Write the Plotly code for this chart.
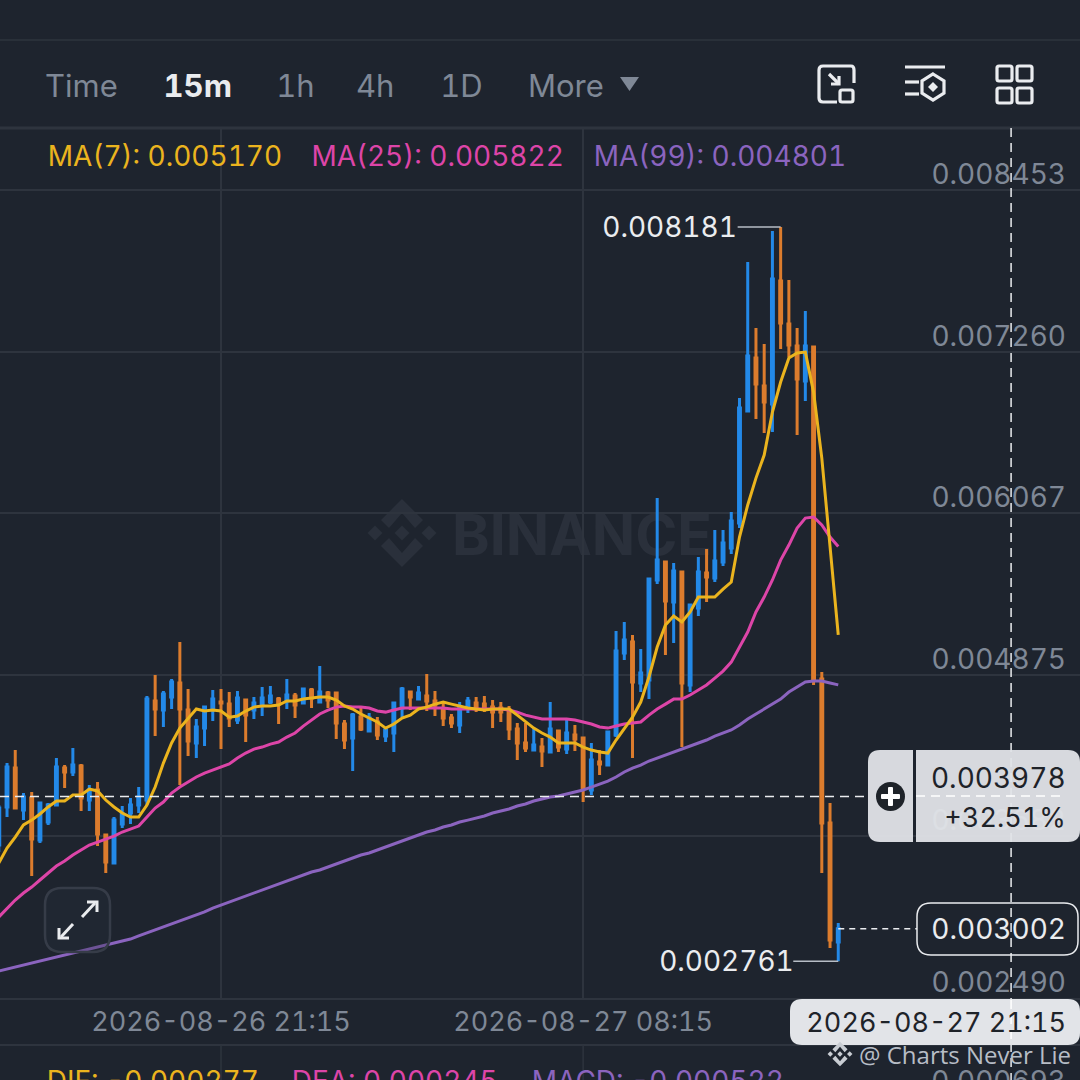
import numpy as np
import pandas as pd
import plotly.graph_objects as go

opens = [3619, 3900, 4187, 3877, 3966, 3656, 3789, 3914, 4187, 4158,
         4202, 3951, 4025, 3693, 3486, 3774, 3855, 3914, 3951, 4682,
         4615, 4711, 4815, 4615, 4372, 4482, 4615, 4674, 4659, 4541,
         4689, 4615, 4652, 4674, 4696, 4682, 4719, 4667, 4763, 4674,
         4741, 4741, 4512, 4409, 4563, 4460, 4527, 4423, 4446, 4630,
         4748, 4696, 4719, 4682, 4623, 4556, 4505, 4630, 4667, 4659,
         4637, 4630, 4615, 4475, 4372, 4320, 4342, 4305, 4460, 4327,
         4431, 4409, 4025, 4231, 4209, 4431, 5036, 5117, 4815, 4837,
         5575, 5708, 5412, 5634, 4800, 5368, 5626, 5589, 5708, 5811,
         5995, 6822, 7213, 7006, 6874, 7781, 7464, 7302, 7043, 7294,
         4844, 3781, 2903]
closes = [3892, 4194, 3892, 3973, 3663, 3929, 3914, 4194, 4158, 4209,
          3966, 4025, 3700, 3493, 3803, 3848, 3914, 3973, 4696, 4623,
          4733, 4822, 4623, 4387, 4490, 4637, 4696, 4667, 4556, 4704,
          4578, 4667, 4704, 4719, 4659, 4726, 4652, 4770, 4704, 4748,
          4689, 4519, 4394, 4578, 4475, 4556, 4431, 4468, 4667, 4770,
          4711, 4741, 4682, 4652, 4556, 4519, 4637, 4682, 4637, 4630,
          4600, 4600, 4475, 4372, 4335, 4357, 4313, 4475, 4342, 4446,
          4401, 4040, 4246, 4217, 4453, 5051, 5132, 4822, 4889, 5582,
          5722, 5420, 5641, 4815, 5390, 5634, 5597, 5715, 5848, 6010,
          6844, 7228, 7021, 6888, 7796, 7471, 7309, 7058, 7302, 4844,
          3781, 2918, 3002]
highs = [3914, 4224, 4320, 4003, 4010, 3936, 3929, 4261, 4209, 4335,
         4217, 4062, 4084, 3700, 3826, 3907, 3966, 4047, 4719, 4874,
         4756, 4844, 5117, 4770, 4549, 4645, 4763, 4770, 4748, 4756,
         4696, 4711, 4785, 4793, 4711, 4844, 4741, 4778, 4778, 4940,
         4756, 4741, 4541, 4593, 4637, 4593, 4563, 4482, 4674, 4785,
         4756, 4793, 4881, 4756, 4667, 4586, 4674, 4711, 4711, 4719,
         4689, 4674, 4645, 4519, 4519, 4482, 4409, 4674, 4468, 4541,
         4505, 4409, 4372, 4320, 4453, 5198, 5265, 5169, 5066, 5582,
         6180, 5708, 5700, 5641, 5398, 5745, 5804, 5944, 5944, 6077,
         6918, 7922, 7435, 7316, 8150, 8181, 7789, 7435, 7560, 7294,
         4896, 3929, 3043]
lows = [3567, 3826, 3892, 3803, 3390, 3634, 3767, 3907, 4040, 4128,
        3870, 3870, 3612, 3412, 3486, 3744, 3774, 3855, 3914, 4423,
        4490, 4623, 4062, 4276, 4261, 4350, 4534, 4327, 4490, 4512,
        4379, 4549, 4571, 4659, 4512, 4623, 4556, 4667, 4630, 4667,
        4630, 4401, 4327, 4165, 4460, 4460, 4394, 4379, 4305, 4563,
        4615, 4696, 4608, 4571, 4497, 4482, 4446, 4593, 4600, 4600,
        4482, 4527, 4394, 4246, 4305, 4320, 4194, 4298, 4305, 4290,
        4313, 3936, 3988, 4135, 4202, 4416, 4984, 4261, 4748, 4696,
        5545, 5021, 5110, 4342, 4748, 5309, 5412, 5560, 5678, 5767,
        5958, 6822, 6763, 6660, 6667, 7280, 7221, 6645, 6896, 4800,
        3412, 2859, 2761]
ma7 = [3486, 3597, 3678, 3767, 3803, 3848, 3900, 3944, 3944, 3988,
       3988, 4032, 4018, 3951, 3900, 3855, 3826, 3826, 3914, 4047,
       4224, 4372, 4482, 4556, 4623, 4608, 4615, 4608, 4563, 4571,
       4608, 4637, 4645, 4645, 4652, 4682, 4682, 4696, 4704, 4711,
       4711, 4689, 4645, 4623, 4586, 4556, 4527, 4482, 4512, 4556,
       4578, 4623, 4637, 4659, 4674, 4659, 4645, 4630, 4623, 4615,
       4623, 4623, 4623, 4578, 4527, 4482, 4446, 4416, 4372, 4372,
       4372, 4342, 4320, 4305, 4298, 4394, 4482, 4563, 4674, 4859,
       5080, 5243, 5309, 5265, 5339, 5449, 5449, 5449, 5508, 5560,
       5892, 6129, 6327, 6497, 6815, 7036, 7213, 7250, 7257, 6962,
       6475, 5833, 5170]
ma25 = [3088, 3154, 3213, 3265, 3309, 3361, 3412, 3464, 3501, 3545,
        3582, 3619, 3641, 3663, 3685, 3715, 3737, 3759, 3826, 3892,
        3936, 4003, 4047, 4084, 4121, 4150, 4172, 4194, 4217, 4261,
        4298, 4327, 4342, 4364, 4379, 4416, 4446, 4497, 4541, 4586,
        4615, 4637, 4645, 4637, 4637, 4630, 4608, 4600, 4615, 4630,
        4630, 4630, 4630, 4630, 4630, 4623, 4623, 4623, 4623, 4623,
        4623, 4623, 4615, 4600, 4578, 4563, 4549, 4549, 4549, 4549,
        4541, 4527, 4512, 4490, 4482, 4497, 4512, 4519, 4527, 4578,
        4623, 4659, 4696, 4696, 4726, 4763, 4800, 4851, 4903, 4969,
        5080, 5191, 5339, 5449, 5575, 5722, 5833, 5958, 6032, 6040,
        5981, 5892, 5822]
ma99 = [2689, 2704, 2719, 2733, 2748, 2763, 2777, 2792, 2807, 2822,
        2836, 2851, 2866, 2881, 2896, 2910, 2925, 2948, 2970, 2992,
        3014, 3036, 3058, 3080, 3103, 3125, 3154, 3176, 3198, 3220,
        3243, 3265, 3287, 3309, 3331, 3353, 3375, 3398, 3420, 3435,
        3457, 3479, 3501, 3523, 3545, 3560, 3582, 3604, 3627, 3649,
        3671, 3693, 3715, 3730, 3752, 3767, 3789, 3803, 3818, 3833,
        3855, 3870, 3885, 3907, 3922, 3944, 3959, 3973, 3981, 3996,
        4010, 4025, 4047, 4069, 4091, 4121, 4158, 4187, 4209, 4239,
        4261, 4283, 4305, 4327, 4350, 4372, 4394, 4423, 4446, 4468,
        4505, 4549, 4586, 4623, 4659, 4696, 4748, 4785, 4822, 4829,
        4829, 4815, 4801]
price_ticks = [0.008453, 0.007260, 0.006067, 0.004875, 0.003682, 0.002490]
time_ticks = ["2026-08-26 21:15", "2026-08-27 08:15"]
times = pd.date_range("2026-08-26 14:30", periods=len(opens), freq="15min")

BG = "#1E242E"
GRID = "#2E343E"
GREY = "#7F8896"
BLUE = "#2389E8"
ORANGE = "#DC7C2D"
YELLOW = "#EBB41E"
PINK = "#DD45A8"
PURPLE = "#8B64BF"
WHITE = "#EAECEF"
PILL = "#E2E4E8"
DARK = "#1E2329"
FONT = "Inter"


def X(px):
    return px / 1080


def Y(py):
    return 1 - py / 1080


def poly(points, close=False):
    d = " ".join(("M" if i == 0 else "L") + f" {X(x):.5f} {Y(y):.5f}" for i, (x, y) in enumerate(points))
    return d + (" Z" if close else "")


def rrect(x0, y0, x1, y1, r, corners="lrLR"):
    # corners: l/r top left/right, L/R bottom left/right
    tl, tr, bl, br = [r if c in corners else 0 for c in "lrLR"]
    return (f"M {X(x0 + tl):.5f} {Y(y0):.5f} L {X(x1 - tr):.5f} {Y(y0):.5f} "
            f"Q {X(x1):.5f} {Y(y0):.5f} {X(x1):.5f} {Y(y0 + tr):.5f} "
            f"L {X(x1):.5f} {Y(y1 - br):.5f} Q {X(x1):.5f} {Y(y1):.5f} {X(x1 - br):.5f} {Y(y1):.5f} "
            f"L {X(x0 + bl):.5f} {Y(y1):.5f} Q {X(x0):.5f} {Y(y1):.5f} {X(x0):.5f} {Y(y1 - bl):.5f} "
            f"L {X(x0):.5f} {Y(y0 + tl):.5f} Q {X(x0):.5f} {Y(y0):.5f} {X(x0 + tl):.5f} {Y(y0):.5f} Z")


shapes = []
annotations = []


def add_path(d, color=None, fill=None, width=3.2, layer="above"):
    shapes.append(dict(type="path", path=d, xref="paper", yref="paper", layer=layer,
                       line=dict(color=color or "rgba(0,0,0,0)", width=width if color else 0),
                       fillcolor=fill or "rgba(0,0,0,0)"))


def hline(y, x0, x1, color, width=1.5, dash="solid"):
    shapes.append(dict(type="line", xref="paper", yref="paper", x0=X(x0), x1=X(x1), y0=Y(y), y1=Y(y),
                       line=dict(color=color, width=width, dash=dash)))


def text(s, x, y, size, color, weight=400, family=FONT):
    # all centred: tabular digits are switched on after plotly has measured the text
    annotations.append(dict(text=s, x=X(x), y=Y(y), xref="paper", yref="paper", xanchor="center", yanchor="middle",
                            showarrow=False, font=dict(size=size, color=color, family=family, weight=weight)))


def logo(cx, cy, k, color, layer="above"):
    for dx in (-27, 0, 27):
        add_path(poly([(cx + dx * k, cy - 7.5 * k), (cx + (dx + 7.5) * k, cy), (cx + dx * k, cy + 7.5 * k),
                       (cx + (dx - 7.5) * k, cy)], True), fill=color, layer=layer)
    for s in (-1, 1):
        add_path(poly([(cx, cy + s * 34 * k), (cx + 21 * k, cy + s * 13 * k), (cx + 13 * k, cy + s * 5 * k),
                       (cx, cy + s * 20 * k), (cx - 13 * k, cy + s * 5 * k), (cx - 21 * k, cy + s * 13 * k)], True),
                 fill=color, layer=layer)


fig = go.Figure()
fig.add_trace(go.Candlestick(
    x=times,
    open=np.array(opens) * 1e-6, high=np.array(highs) * 1e-6,
    low=np.array(lows) * 1e-6, close=np.array(closes) * 1e-6,
    whiskerwidth=0,
    increasing=dict(line=dict(color=BLUE, width=3), fillcolor=BLUE),
    decreasing=dict(line=dict(color=ORANGE, width=3), fillcolor=ORANGE),
))
for values, color in [(ma99, PURPLE), (ma25, PINK), (ma7, YELLOW)]:
    fig.add_trace(go.Scatter(x=times, y=np.array(values) * 1e-6, mode="lines",
                             line=dict(color=color, width=3)))

# watermark under the candles
logo(402, 533, 1, "#2A303B", layer="below")
shapes.append(dict(type="rect", xref="paper", yref="paper", x0=X(440), x1=X(724), y0=Y(508), y1=Y(556),
                   layer="below", line=dict(width=0), fillcolor="rgba(0,0,0,0)",
                   label=dict(text="BINANCE", textposition="middle center",
                              font=dict(size=57, color="#2A303B", family=FONT, weight=700))))

# pane separators
hline(40, 0, 1080, GRID)
hline(128, 0, 1080, GRID, width=3)
hline(1045, 0, 1080, GRID, width=2)
for t in time_ticks:
    shapes.append(dict(type="line", xref="x", yref="paper", x0=t, x1=t, y0=Y(1045), y1=0,
                       line=dict(color=GRID, width=1.5)))

# toolbar
text("Time", 81, 86, 31, GREY)
text("15m", 197, 85, 31, WHITE, weight=700)
text("1h", 295, 86, 31, GREY)
text("4h", 375, 86, 31, GREY)
text("1D", 461, 86, 31, GREY)
text("More", 566, 86, 31, GREY)
add_path(poly([(620, 77), (639, 77), (629.5, 91)], True), fill=GREY)

add_path("M " + f"{X(837):.5f} {Y(102):.5f} L {X(823):.5f} {Y(102):.5f} Q {X(819):.5f} {Y(102):.5f} {X(819):.5f} {Y(98):.5f} "
         f"L {X(819):.5f} {Y(70):.5f} Q {X(819):.5f} {Y(66):.5f} {X(823):.5f} {Y(66):.5f} "
         f"L {X(851):.5f} {Y(66):.5f} Q {X(854):.5f} {Y(66):.5f} {X(854):.5f} {Y(70):.5f} L {X(854):.5f} {Y(83):.5f}", color=WHITE)
add_path(rrect(840, 90, 853, 102, 2), color=WHITE)
add_path(poly([(829, 74), (839, 84)]), color=WHITE)
add_path(poly([(839, 76), (839, 84), (831, 84)]), color=WHITE)

hline(67, 905, 945, WHITE, width=3.2)
hline(82, 905, 919, WHITE, width=3.2)
hline(94, 905, 919, WHITE, width=3.2)
add_path(poly([(933, 74), (944, 81), (944, 93), (933, 100), (922, 93), (922, 81)], True), color=WHITE)
add_path(poly([(933, 82), (938, 87), (933, 92), (928, 87)], True), fill=WHITE)

for bx in (997, 1017):
    for by in (66, 88):
        add_path(rrect(bx, by, bx + 15, by + 15, 2), color=WHITE)

# moving average legends
text("MA(7): 0.005170", 164.5, 156, 28, YELLOW)
text("MA(25): 0.005822", 437.5, 156, 28, PINK)
text("MA(99): 0.004801", 719.5, 156, 28, PURPLE)

# high / low markers
shapes.append(dict(type="line", xref="x", yref="y", xsizemode="pixel", xanchor=times[95], x0=-43, x1=0,
                   y0=0.008181, y1=0.008181, line=dict(color="#B7BDC6", width=1.5)))
annotations.append(dict(text="0.008181", x=times[95], y=0.008181, xref="x", yref="y", xanchor="center", xshift=-111,
                        showarrow=False, font=dict(size=28, color=WHITE, family=FONT)))
shapes.append(dict(type="line", xref="x", yref="y", xsizemode="pixel", xanchor=times[102], x0=-45, x1=0,
                   y0=0.002761, y1=0.002761, line=dict(color="#B7BDC6", width=1.5)))
annotations.append(dict(text="0.002761", x=times[102], y=0.002761, xref="x", yref="y", xanchor="center", xshift=-112,
                        showarrow=False, font=dict(size=28, color=WHITE, family=FONT)))

# last price tag
shapes.append(dict(type="line", xref="x", yref="y", xsizemode="pixel", xanchor=times[102], x0=0, x1=79,
                   y0=0.003002, y1=0.003002, line=dict(color=WHITE, width=1.5, dash="6px,5px")))
add_path(rrect(917, 903, 1078, 955, 14), color=WHITE, fill=BG, width=1.5)
text("0.003002", 998.5, 929, 28, WHITE)

# crosshair
shapes.append(dict(type="line", xref="x", yref="paper", x0="2026-08-27 21:15", x1="2026-08-27 21:15", y0=Y(128), y1=0,
                   line=dict(color=WHITE, width=1.5, dash="9px,6px")))
shapes.append(dict(type="line", xref="paper", yref="y", x0=0, x1=X(868), y0=0.003978, y1=0.003978,
                   line=dict(color=WHITE, width=1.5, dash="9px,6px")))

# crosshair price tag
add_path(rrect(868, 750, 913, 842, 12, corners="lL"), fill="rgba(226,228,232,0.95)")
add_path(rrect(916, 750, 1080, 842, 12, corners="rR"), fill="rgba(226,228,232,0.95)")
shapes.append(dict(type="line", xref="paper", yref="paper", x0=X(916), x1=X(1065), y0=Y(796), y1=Y(796),
                   line=dict(color="#FFFFFF", width=1.5, dash="9px,6px")))
shapes.append(dict(type="circle", xref="paper", yref="paper", x0=X(876), x1=X(905), y0=Y(811), y1=Y(782),
                   line=dict(width=0), fillcolor=DARK))
add_path(rrect(888, 787, 893, 806, 1), fill="#FFFFFF")
add_path(rrect(881, 794, 900, 799, 1), fill="#FFFFFF")
text("0.003978", 998.5, 778, 28, DARK)
text("+32.51%", 1005, 817, 27, DARK)

# time pill
add_path(rrect(790, 999, 1080, 1045, 12), fill=PILL)
shapes.append(dict(type="line", xref="x", yref="paper", x0="2026-08-27 21:15", x1="2026-08-27 21:15",
                   y0=Y(1000), y1=Y(1044), line=dict(color="#FFFFFF", width=1.5, dash="9px,6px")))
text("2026-08-27 21:15", 935.5, 1022, 27, DARK)

# footer
logo(840, 1054, 0.36, "#C9CDD3")
text("@ Charts Never Lie", 965, 1054, 24, "#B7BDC6", family="Open Sans")
text("DIF: -0.000277", 153, 1081, 28, YELLOW)
text("DEA: 0.000245", 394.5, 1081, 28, PINK)
text("MACD: -0.000522", 657.5, 1081, 28, PURPLE)
text("0.000693", 998.5, 1081, 28, GREY)

# expand button
add_path(rrect(45, 888, 110, 952, 17), color="#363C48", fill="rgba(40,46,58,0.3)", width=2.5)
add_path(poly([(82, 917), (95, 903)]), color=WHITE, width=3)
add_path(poly([(87, 902), (97, 902), (97, 912)]), color=WHITE, width=3)
add_path(poly([(73, 924), (61, 937)]), color=WHITE, width=3)
add_path(poly([(59, 928), (59, 938), (69, 938)]), color=WHITE, width=3)

fig.update_layout(
    width=1080, height=1080,
    margin=dict(l=0, r=0, t=0, b=0, autoexpand=False),
    paper_bgcolor=BG, plot_bgcolor=BG,
    showlegend=False, hovermode=False, dragmode=False,
    boxgap=0.67,
    font=dict(family=FONT, color=GREY),
    xaxis=dict(
        type="date", range=["2026-08-26 14:32:12", "2026-08-27 23:20:36"],
        domain=[0, 1], rangeslider=dict(visible=False),
        tickvals=time_ticks, tickformat="%Y-%m-%d %H:%M",
        tickfont=dict(size=27, color=GREY, family=FONT),
        ticks="", ticklabelstandoff=-1, showgrid=True, gridcolor=GRID, gridwidth=1.5,
        showline=True, linecolor=GRID, linewidth=2, zeroline=False,
    ),
    yaxis=dict(
        domain=[Y(998), Y(128)], range=[0.002490, 0.008911], side="right",
        tickvals=price_ticks, tickformat=".6f",
        ticklabelposition="inside", ticklabelstandoff=11, ticklabelshift=-16, ticklabeloverflow="allow",
        tickfont=dict(size=28, color=GREY, family=FONT),
        ticks="", showgrid=True, gridcolor=GRID, gridwidth=1.5, zeroline=False, showline=False,
    ),
    shapes=shapes,
    annotations=annotations,
)

# tabular digits, as the app's own font has them
fig.write_html("out.html", config=dict(displayModeBar=False),
               post_script="document.body.style.margin='0';"
                           "var s=document.createElement('style');"
                           "s.textContent=\"text{font-feature-settings:'tnum' 1}\";"
                           "document.head.appendChild(s);")
